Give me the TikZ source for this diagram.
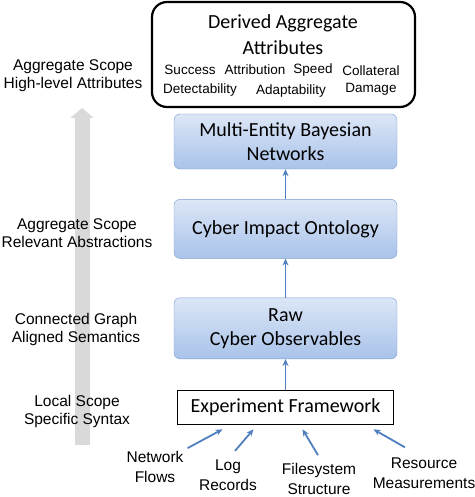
\documentclass[tikz,border=0pt]{standalone}
\usepackage{fontspec}
\newfontfamily\calib{Carlito}
\newfontfamily\arl{Liberation Sans}
\usetikzlibrary{positioning,arrows.meta,calc}

\definecolor{boxtop}{HTML}{DCE6F6}
\definecolor{boxbot}{HTML}{A9C3EA}
\definecolor{boxline}{HTML}{7C9CD1}
\definecolor{flow}{HTML}{4F7FBF}
\definecolor{scope}{HTML}{D9D9D9}

\tikzset{
  layer/.style={draw=boxline, rounded corners=6pt, top color=boxtop, bottom color=boxbot, minimum width=223pt, align=center, font=\calib\fontsize{20}{24}\selectfont, inner sep=0pt},
  side/.style={align=center, font=\arl\fontsize{15.5}{18}\selectfont, inner sep=0pt},
  src/.style={align=center, font=\arl\fontsize{15.5}{20}\selectfont, inner sep=0pt},
  attr/.style={align=center, font=\arl\fontsize{13.5}{17}\selectfont, inner sep=0pt},
  up/.style={-{Stealth[length=7pt,width=6pt]}, flow, line width=1.8pt},
}

\begin{document}
\begin{tikzpicture}[x=1pt,y=-1pt]
\useasboundingbox (0,0) rectangle (474,497);

% scope arrow behind the side labels
\coordinate (scopelow) at (82,445);
\coordinate (scopehigh) at (82,108);
\draw[scope, line width=15pt, -{Triangle[length=10pt,width=23pt]}] (scopelow) -- (scopehigh);

% derived attributes
\node[draw, line width=2.2pt, rounded corners=15pt, minimum width=263pt, minimum height=105pt] (derived) at (283.5,54.5) {};
\node[font=\calib\fontsize{20}{26}\selectfont, align=center, inner sep=0pt] (dtitle) at (283,34.5) {Derived Aggregate\\Attributes};
\node[attr] (success) at (190,70) {Success};
\node[attr] (attrib) at (255,70) {Attribution};
\node[attr] (speed) at (313,70) {Speed};
\node[attr] (collat) at (371,81) {Collateral\\Damage};
\node[attr] (detect) at (200,90) {Detectability};
\node[attr] (adapt) at (291,91) {Adaptability};

% layers
\node[layer, minimum height=55pt] (mebn) at (285.5,141.5) {Multi-Entity Bayesian\\Networks};
\node[layer, minimum height=59pt, below=30pt of mebn] (cio) {Cyber Impact Ontology};
\node[layer, minimum height=61pt, below=39pt of cio] (raw) {Raw\\Cyber Observables};
\node[draw, line width=1.3pt, minimum width=216pt, minimum height=34pt, inner sep=0pt, below=31pt of raw, font=\calib\fontsize{20}{24}\selectfont] (ef) {Experiment Framework};

\draw[up] (cio) -- (mebn);
\draw[up] (raw) -- (cio);
\draw[up] (ef) -- (raw);

% side labels
\node[side] (hilevel) at (73,76) {Aggregate Scope\\High-level Attributes};
\node[side] (relevant) at (77,233.5) {Aggregate Scope\\Relevant Abstractions};
\node[side] (aligned) at (76,329) {Connected Graph\\Aligned Semantics};
\node[side] (syntax) at (77,411) {Local Scope\\Specific Syntax};

% sources
\node[src] (netflow) at (155,467) {Network\\Flows};
\node[src] (logrec) at (228,475.5) {Log\\Records};
\node[src] (filesys) at (319,479) {Filesystem\\Structure};
\node[src] (resource) at (424,473) {Resource\\Measurements};

\coordinate (inA) at ([xshift=-63pt,yshift=-4pt]ef.south);
\coordinate (inB) at ([xshift=-32pt,yshift=-4pt]ef.south);
\coordinate (inC) at ([xshift=17pt,yshift=-4pt]ef.south);
\coordinate (inD) at ([xshift=88pt,yshift=-4pt]ef.south);

\draw[up] ([shift={(4pt,3pt)}]netflow.north east) -- (inA);
\draw[up] ([shift={(7pt,9pt)}]logrec.north) -- (inB);
\draw[up] ([shift={(-1pt,8pt)}]filesys.north) -- (inC);
\draw[up] ([shift={(-19pt,10pt)}]resource.north) -- (inD);
\end{tikzpicture}
\end{document}
